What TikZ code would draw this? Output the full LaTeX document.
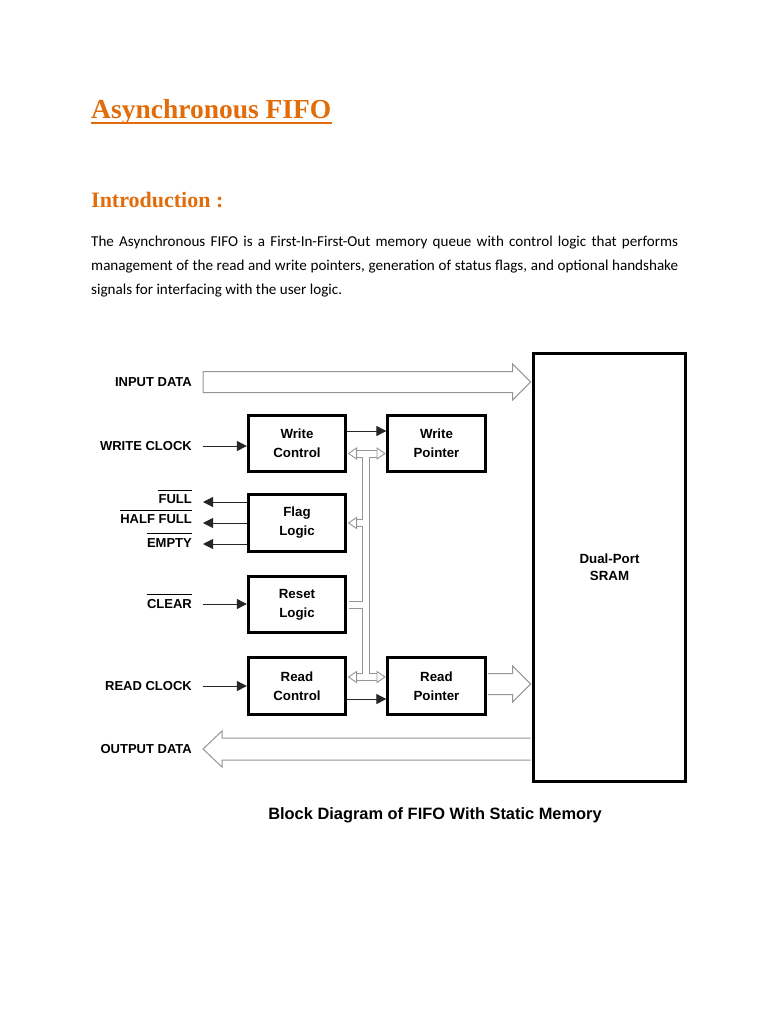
\documentclass[tikz,border=0pt]{standalone}
\usepackage{fontspec}
\setmainfont{Liberation Serif}
\newfontfamily\arialf{Liberation Sans}
\newfontfamily\calibrif{Carlito}
\usetikzlibrary{arrows.meta,calc}
\definecolor{titleor}{RGB}{227,108,10}
\definecolor{busgray}{RGB}{150,150,150}
\begin{document}
\begin{tikzpicture}[x=1pt,y=-1pt,
  blk/.style={draw, line width=2.8pt, minimum width=97.5pt, minimum height=56.5pt, inner sep=0pt,
    font=\arialf\bfseries\fontsize{13.3}{19}\selectfont, align=center},
  lbl/.style={inner sep=0pt, anchor=east, font=\arialf\bfseries\fontsize{13}{15}\selectfont},
  ovl/.style={line width=1.3pt},
  sig/.style={line width=0.9pt, draw=black!85, -{Triangle[length=10pt,width=10pt]}},
  hollow/.style={draw=busgray, line width=1pt, fill=white, line join=miter},
  para/.style={inner sep=0pt, anchor=base west, font=\calibrif\fontsize{15.1}{18}\selectfont},
  buso/.style={draw=busgray, line width=8pt},
  busi/.style={draw=white, line width=6pt},
  hhead/.style={draw=busgray, line width=0.9pt, fill=white},
]
\useasboundingbox (0,0) rectangle (768,1024);
\fill[white] (0,0) rectangle (768,1024);

% headings and text
\node[anchor=base west, inner sep=0pt, text=titleor, font=\bfseries\fontsize{27.5}{30}\selectfont] (title) at (91,119) {Asynchronous FIFO};
\draw[titleor, line width=1.8pt] ([yshift=-4pt]title.base west) -- ([yshift=-4pt]title.base east);
\node[anchor=base west, inner sep=0pt, text=titleor, font=\bfseries\fontsize{22}{24}\selectfont] (intro) at (91,208) {Introduction :};
\node[para] (p1) at (91,246) {\makebox[587pt][s]{The Asynchronous FIFO is a First-In-First-Out memory queue with control logic that performs}};
\node[para] (p2) at (91,270) {\makebox[587pt][s]{management of the read and write pointers, generation of status flags, and optional handshake}};
\node[para] (p3) at (91,294) {signals for interfacing with the user logic.};

% blocks
\node[blk] (WC) at (297,443.5) {Write\\Control};
\node[blk] (WP) at (436.5,443.5) {Write\\Pointer};
\node[blk] (FL) at (297,523) {Flag\\Logic};
\node[blk] (RL) at (297,604.5) {Reset\\Logic};
\node[blk] (RC) at (297,686) {Read\\Control};
\node[blk] (RP) at (436.5,686) {Read\\Pointer};
\node[draw, line width=2.8pt, minimum width=152.2pt, minimum height=428.2pt, inner sep=0pt,
  font=\arialf\bfseries\fontsize{13.3}{17}\selectfont, align=center] (SRAM) at (609.5,567.5) {Dual-Port\\SRAM};

% labels
\node[lbl] (inD) at (192,382) {INPUT DATA};
\node[lbl] (wclk) at (192,446) {WRITE CLOCK};
\node[lbl] (full) at (192,499.5) {FULL};
\node[lbl] (half) at (192,519.5) {HALF FULL};
\node[lbl] (empty) at (192,543) {EMPTY};
\node[lbl] (clr) at (192,604) {CLEAR};
\node[lbl] (rclk) at (192,686) {READ CLOCK};
\node[lbl] (outD) at (192,749) {OUTPUT DATA};
\foreach \n in {full,half,empty,clr}
  \draw[ovl] ([yshift=4.5pt]\n.north west) -- ([yshift=4.5pt]\n.north east);

% signal arrows
\draw[sig] ([xshift=11pt]wclk.east) -- (wclk.east -| WC.west);
\draw[sig] ([xshift=11pt]clr.east) -- (clr.east -| RL.west);
\draw[sig] ([xshift=11pt]rclk.east) -- (rclk.east -| RC.west);
\coordinate (fend) at ([xshift=11pt]full.east);
\draw[sig] ($(FL.west)+(0,-21)$) coordinate (f1) -- (f1 -| fend);
\draw[sig] (FL.west) -- (FL.west -| fend);
\draw[sig] ($(FL.west)+(0,21)$) coordinate (f3) -- (f3 -| fend);
\draw[sig] ($(WC.east)+(0,-12.5)$) coordinate (a1) -- (a1 -| WP.west);
\draw[sig] ($(RC.east)+(0,13)$) coordinate (a2) -- (a2 -| RP.west);

% hollow data arrows
\coordinate (ia) at ([xshift=11pt]inD.east);
\coordinate (ib) at ($(ia -| SRAM.west)+(-1.4,0)$);
\draw[hollow] ($(ia)+(0,-10.5)$) -- ($(ib)+(-18,-10.5)$) -- ($(ib)+(-18,-18)$) -- (ib)
  -- ($(ib)+(-18,18)$) -- ($(ib)+(-18,10.5)$) -- ($(ia)+(0,10.5)$) -- cycle;
\coordinate (oa) at ([xshift=11pt]outD.east);
\coordinate (ob) at ($(oa -| SRAM.west)+(-1.4,0)$);
\draw[hollow] ($(ob)+(0,-11)$) -- ($(oa)+(19,-11)$) -- ($(oa)+(19,-18)$) -- (oa)
  -- ($(oa)+(19,18)$) -- ($(oa)+(19,11)$) -- ($(ob)+(0,11)$);
\coordinate (ra) at ($(RP.east)+(1.4,-2)$);
\coordinate (rb) at ($(ra -| SRAM.west)+(-1.4,0)$);
\draw[hollow] ($(ra)+(0,-10.5)$) -- ($(rb)+(-18,-10.5)$) -- ($(rb)+(-18,-18)$) -- (rb)
  -- ($(rb)+(-18,18)$) -- ($(rb)+(-18,10.5)$) -- ($(ra)+(0,10.5)$);

% internal bus
\coordinate (bx) at (366,0);
\coordinate (t1) at ($(WC.east)+(1.4,10)$);
\coordinate (t2) at ($(WP.west)+(-1.4,10)$);
\coordinate (u1) at ($(RC.east)+(1.4,-9)$);
\coordinate (u2) at ($(RP.west)+(-1.4,-9)$);
\coordinate (fl) at ($(FL.east)+(1.4,0)$);
\coordinate (rl) at ($(RL.east)+(1.4,0)$);
\foreach \st in {buso,busi}{
  \draw[\st] ($(t1)+(8,0)$) -- ($(t2)+(-8,0)$);
  \draw[\st] ($(u1)+(8,0)$) -- ($(u2)+(-8,0)$);
  \draw[\st] (t1 -| bx) -- (u1 -| bx);
  \draw[\st] ($(fl)+(8,0)$) -- (fl -| bx);
  \draw[\st] (rl) -- (rl -| bx);
}
\draw[hhead] (t1) -- ++(8,-5.5) -- ++(0,11) -- cycle;
\draw[hhead] (u1) -- ++(8,-5.5) -- ++(0,11) -- cycle;
\draw[hhead] (fl) -- ++(8,-5.5) -- ++(0,11) -- cycle;
\draw[hhead] (t2) -- ++(-8,-5.5) -- ++(0,11) -- cycle;
\draw[hhead] (u2) -- ++(-8,-5.5) -- ++(0,11) -- cycle;

% caption
\node[anchor=base, inner sep=0pt, font=\arialf\bfseries\fontsize{16.4}{18}\selectfont] (cap) at (435,819) {Block Diagram of FIFO With Static Memory};
\end{tikzpicture}
\end{document}
